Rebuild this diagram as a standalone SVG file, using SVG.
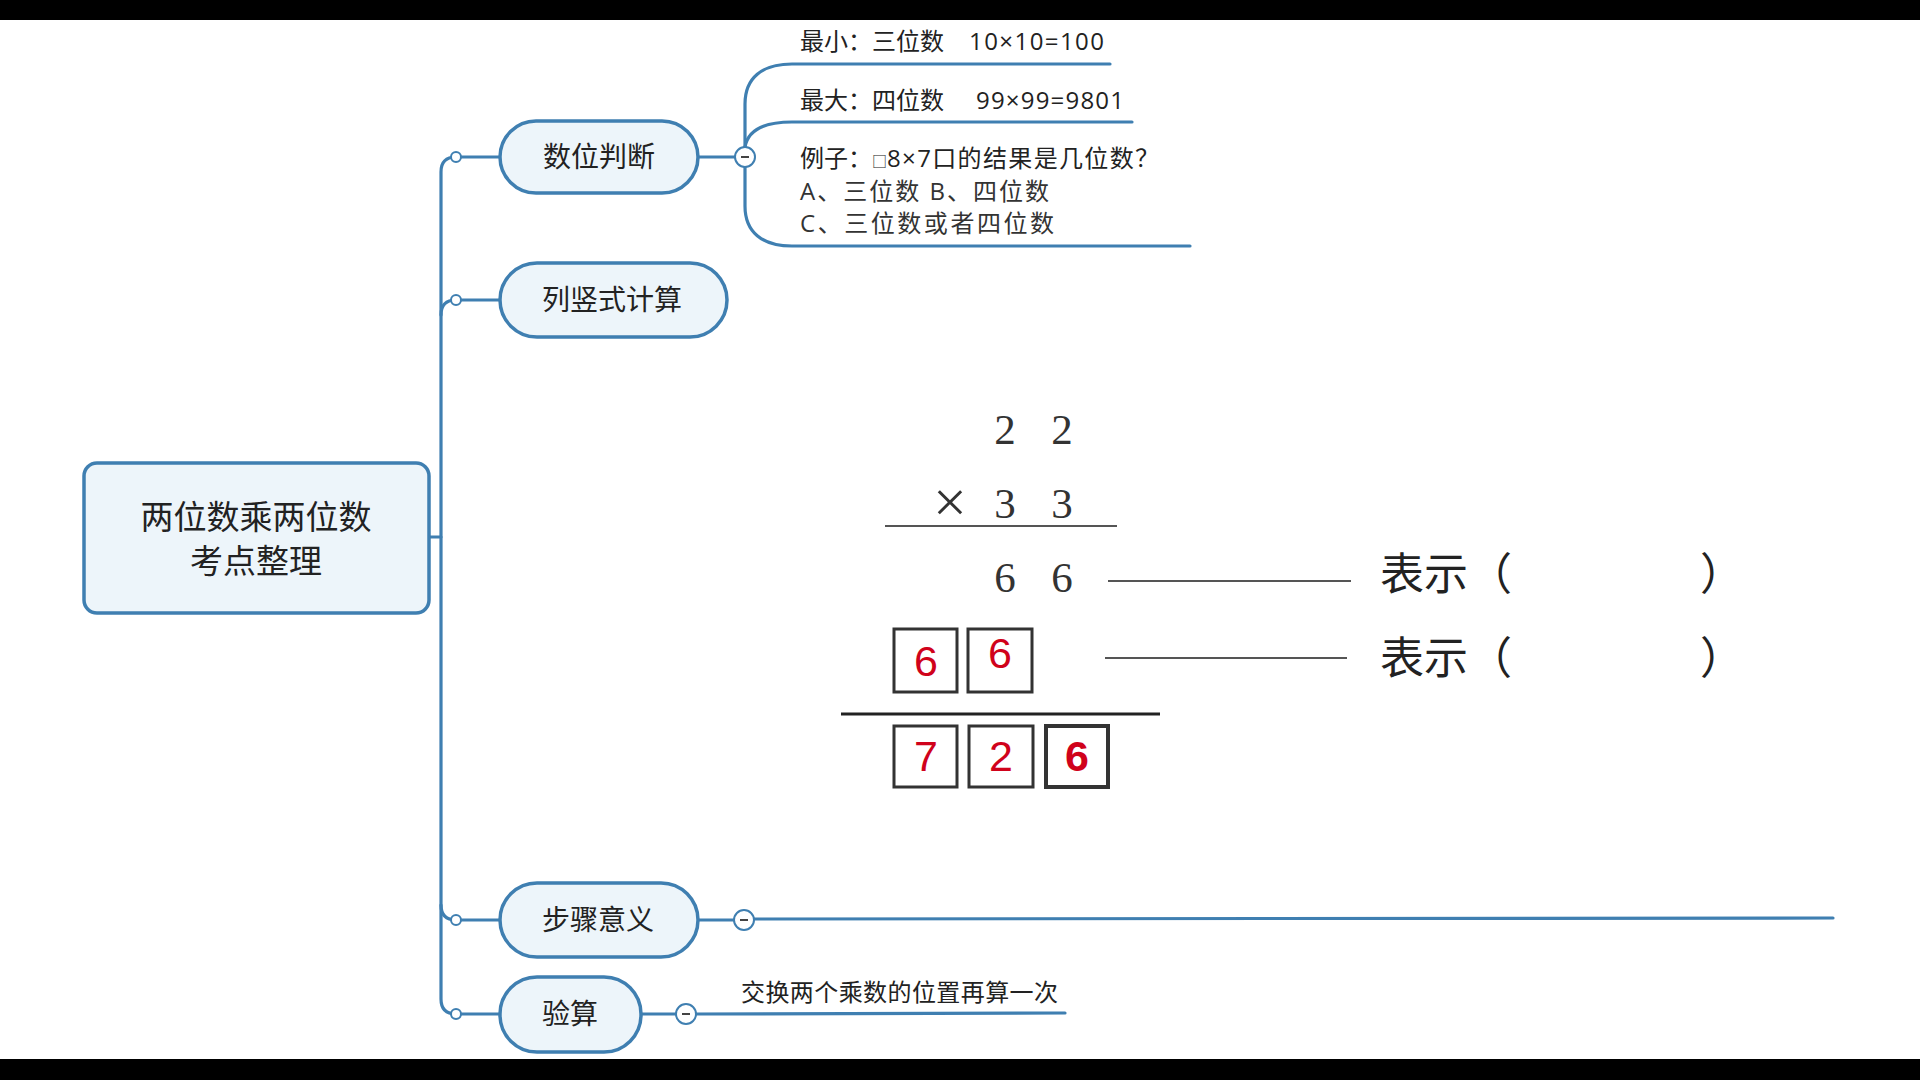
<svg xmlns="http://www.w3.org/2000/svg" width="1920" height="1080" viewBox="0 0 1920 1080">
<style>
.bar{fill:#000}
.conn{fill:none;stroke:#3f7fb1;stroke-width:3.2;stroke-linecap:round}
.dot{fill:#fff;stroke:#3f7fb1;stroke-width:2}
.minus{fill:#fff;stroke:#3f7fb1;stroke-width:2}
.mline{stroke:#444;stroke-width:2}
.node{fill:#edf5fa;stroke:#3f7fb1;stroke-width:3.5}
.lbl{font-family:"Noto Sans CJK SC","Noto Sans",sans-serif;font-size:28px;fill:#222;text-anchor:middle}
.root{font-family:"Noto Sans CJK SC","Noto Sans",sans-serif;font-size:33px;fill:#222;text-anchor:middle}
.sub{font-family:"Open Sans","Noto Sans CJK SC",sans-serif;font-size:24px;fill:#222}
.sub2{font-family:"Open Sans","Noto Sans CJK SC",sans-serif;font-size:24px;fill:#333}
.dig{font-family:"Liberation Serif","DejaVu Serif",serif;font-size:43px;fill:#333;text-anchor:middle}
.red{font-family:"Liberation Sans","DejaVu Sans",sans-serif;font-size:43px;fill:#d0021b;text-anchor:middle}
.box{fill:#fff;stroke:#333;stroke-width:3}
.thin{stroke:#555;stroke-width:2}
.show{font-family:"Noto Sans CJK SC","Noto Sans",sans-serif;font-size:44px;fill:#222}
</style>
<rect width="1920" height="1080" fill="#fff"/>
<rect class="bar" x="0" y="0" width="1920" height="20"/>
<rect class="bar" x="0" y="1059" width="1920" height="21"/>

<g id="connectors">
  <path class="conn" d="M429 537 L441 537"/>
  <path class="conn" d="M456 157 Q441 157 441 172 L441 999 Q441 1014 456 1014"/>
  <path class="conn" d="M441 315 Q441 300 456 300"/>
  <path class="conn" d="M441 905 Q441 920 456 920"/>
  <path class="conn" d="M461 157 L500 157"/>
  <path class="conn" d="M461 300 L500 300"/>
  <path class="conn" d="M461 920 L500 920"/>
  <path class="conn" d="M461 1014 L500 1014"/>
  <path class="conn" d="M698 157 L735 157"/>
  <path class="conn" d="M698 920 L734 920"/>
  <path class="conn" d="M641 1014 L676 1014"/>
  <path class="conn" d="M745 147 L745 104 C745 78 762 64 792 64 L1110 64"/>
  <path class="conn" d="M745 147 C748 130 764 122 792 122 L1132 122"/>
  <path class="conn" d="M745 167 L745 206 C745 232 762 246 792 246 L1190 246"/>
  <path class="conn" d="M754 919 L1833 918"/>
  <path class="conn" d="M696 1014 L1065 1013"/>
  <circle class="dot" cx="456" cy="157" r="5"/>
  <circle class="dot" cx="456" cy="300" r="5"/>
  <circle class="dot" cx="456" cy="920" r="5"/>
  <circle class="dot" cx="456" cy="1014" r="5"/>
  <circle class="minus" cx="745" cy="157" r="10"/>
  <line class="mline" x1="741" y1="157" x2="749" y2="157"/>
  <circle class="minus" cx="744" cy="920" r="10"/>
  <line class="mline" x1="740" y1="920" x2="748" y2="920"/>
  <circle class="minus" cx="686" cy="1014" r="10"/>
  <line class="mline" x1="682" y1="1014" x2="690" y2="1014"/>
</g>

<g id="root">
  <rect class="node" x="84" y="463" width="345" height="150" rx="13"/>
  <text class="root" x="256" y="529">两位数乘两位数</text>
  <text class="root" x="256" y="573">考点整理</text>
</g>

<g id="n-shuwei">
  <rect class="node" x="500" y="121" width="198" height="72" rx="36"/>
  <text class="lbl" x="599" y="167">数位判断</text>
</g>
<g id="n-liezhu">
  <rect class="node" x="500" y="263" width="227" height="74" rx="37"/>
  <text class="lbl" x="612" y="310">列竖式计算</text>
</g>
<g id="n-buzhou">
  <rect class="node" x="500" y="883" width="198" height="74" rx="37"/>
  <text class="lbl" x="598" y="930">步骤意义</text>
</g>
<g id="n-yansuan">
  <rect class="node" x="500" y="977" width="141" height="75" rx="37"/>
  <text class="lbl" x="570" y="1024">验算</text>
</g>

<g id="c-min">
  <text class="sub" x="800" y="50">最小：三位数<tspan x="969" textLength="135" lengthAdjust="spacing">10×10=100</tspan></text>
</g>
<g id="c-max">
  <text class="sub" x="800" y="109">最大：四位数<tspan x="976" textLength="148" lengthAdjust="spacing">99×99=9801</tspan></text>
</g>
<g id="c-example">
  <text class="sub" x="800" y="167">例子：<tspan style="font-size:15px">□</tspan><tspan textLength="272" lengthAdjust="spacing">8×7口的结果是几位数？</tspan></text>
  <text class="sub2" x="800" y="200" textLength="249" lengthAdjust="spacing">A、三位数 B、四位数</text>
  <text class="sub2" x="800" y="232" textLength="254" lengthAdjust="spacing">C、三位数或者四位数</text>
</g>
<g id="c-check">
  <text class="sub" x="741" y="1001" textLength="317" lengthAdjust="spacing">交换两个乘数的位置再算一次</text>
</g>

<g id="calc">
  <text class="dig" x="1005" y="444">2</text>
  <text class="dig" x="1062" y="444">2</text>
  <text class="dig" x="950" y="522" style="font-size:60px;font-weight:300">×</text>
  <text class="dig" x="1005" y="518">3</text>
  <text class="dig" x="1062" y="518">3</text>
  <line class="thin" x1="885" y1="526" x2="1117" y2="526"/>
  <text class="dig" x="1005" y="592">6</text>
  <text class="dig" x="1062" y="592">6</text>
  <line class="thin" x1="1108" y1="581" x2="1351" y2="581"/>
  <rect class="box" x="894" y="629" width="63" height="63"/>
  <rect class="box" x="968" y="629" width="64" height="63"/>
  <text class="red" x="926" y="676">6</text>
  <text class="red" x="1000" y="668">6</text>
  <line class="thin" x1="1105" y1="658" x2="1347" y2="658"/>
  <line x1="841" y1="714" x2="1160" y2="714" stroke="#222" stroke-width="3"/>
  <rect class="box" x="894" y="726" width="63" height="61"/>
  <rect class="box" x="969" y="726" width="64" height="61"/>
  <rect class="box" x="1046" y="726" width="62" height="61" style="stroke-width:4"/>
  <text class="red" x="926" y="771">7</text>
  <text class="red" x="1001" y="771">2</text>
  <text class="red" x="1077" y="771" style="font-weight:bold">6</text>
  <text class="show" x="1380" y="590">表示（<tspan x="1700">）</tspan></text>
  <text class="show" x="1380" y="674">表示（<tspan x="1700">）</tspan></text>
</g>
</svg>
